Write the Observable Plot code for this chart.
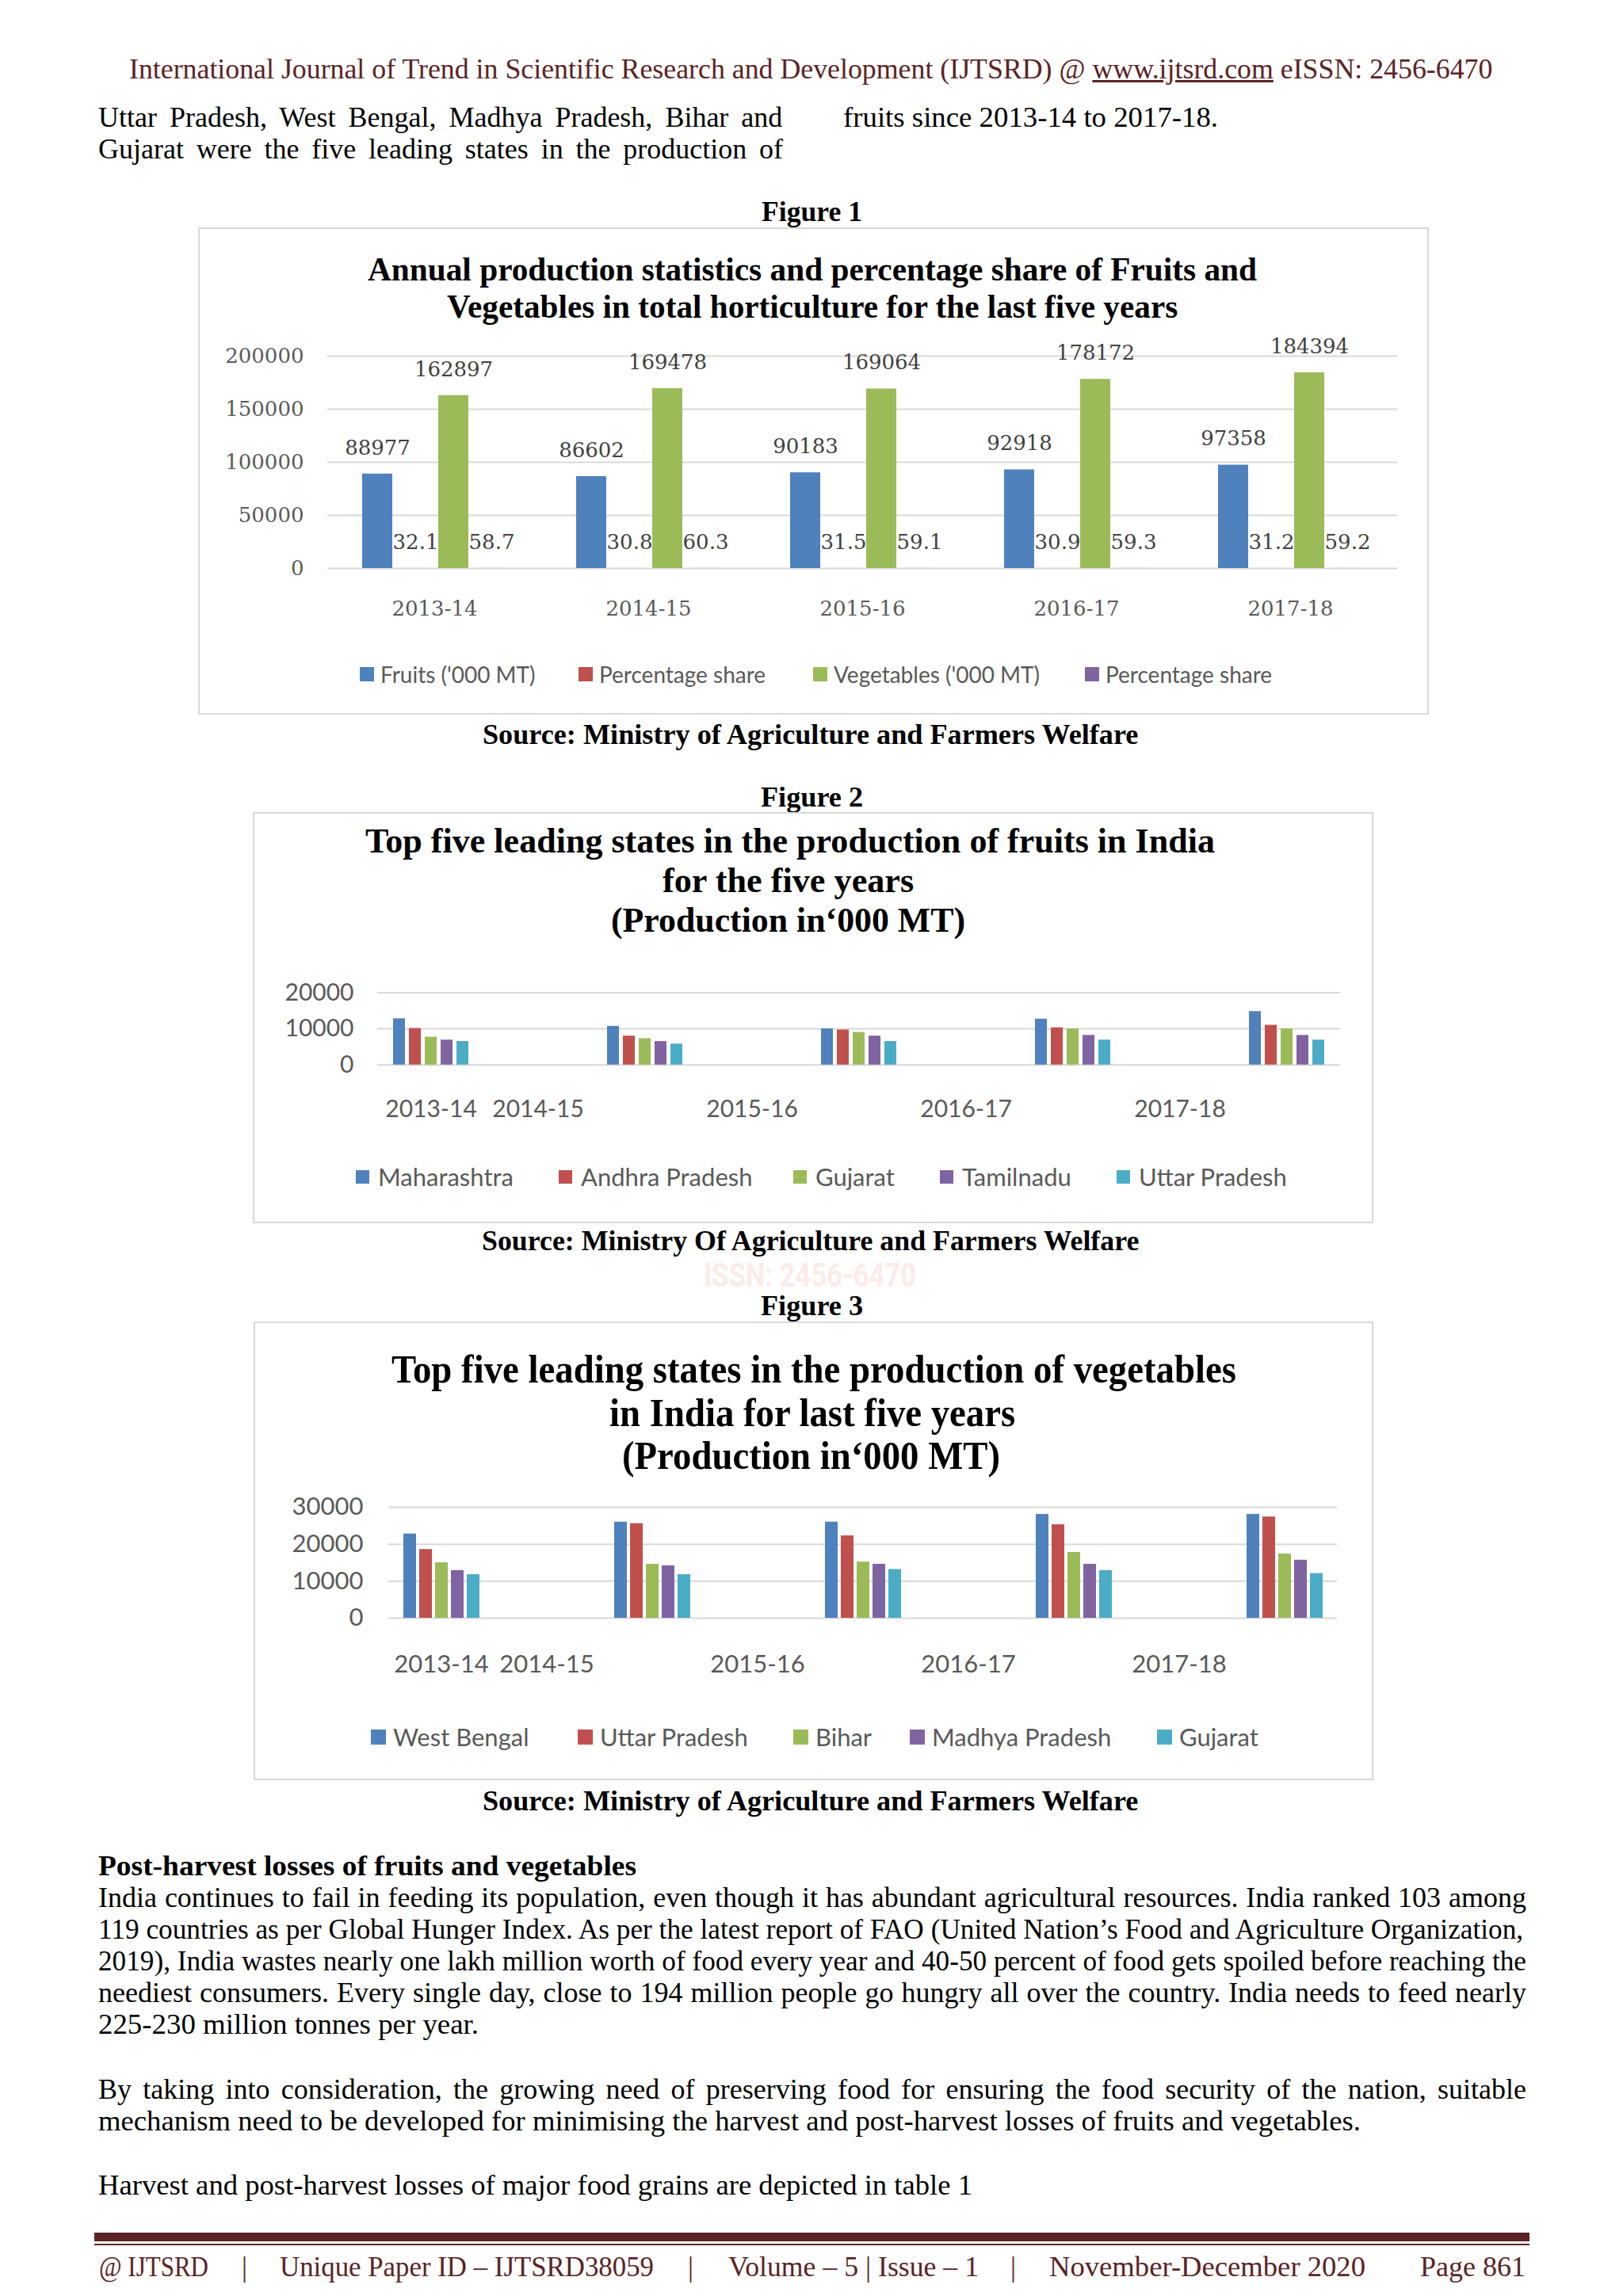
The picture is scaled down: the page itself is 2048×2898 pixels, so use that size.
<!DOCTYPE html>
<html><head><meta charset="utf-8">
<script src="https://cdn.jsdelivr.net/npm/d3@7"></script>
<script src="https://cdn.jsdelivr.net/npm/@observablehq/plot@0.6"></script>
<style>
html,body{margin:0;padding:0;background:#fff;}
#page{position:relative;width:2048px;height:2898px;overflow:hidden;background:#fff;}
.box{position:absolute;border:2px solid #d9d9d9;box-sizing:border-box;}
</style></head><body><div id="page"></div>
<script>
// ---------------- DATA ----------------
// Figure 1
const years = ["2013-14", "2014-15", "2015-16", "2016-17", "2017-18"];
const fruitsProd = [88977, 86602, 90183, 92918, 97358];
const fruitsShare = [32.1, 30.8, 31.5, 30.9, 31.2];
const vegProd = [162897, 169478, 169064, 178172, 184394];
const vegShare = [58.7, 60.3, 59.1, 59.3, 59.2];
const fig1Keys = ["fruits", "fruitsShare", "veg", "vegShare"];
const fig1Labels = ["Fruits ('000 MT)", "Percentage share", "Vegetables ('000 MT)", "Percentage share"];
const fig1Ticks = [0, 50000, 100000, 150000, 200000];

// Figure 2 (category rows as in the source sheet; empty rows carry no values)
const fig2AxisRows = ["2013-14", "2014-15", "", "2015-16", "", "2016-17", "", "2017-18", ""];
const fig2States = ["Maharashtra", "Andhra Pradesh", "Gujarat", "Tamilnadu", "Uttar Pradesh"];
const maharashtra = [12800, null, 10700, null, 10000, null, 12700, null, 14800];
const andhraPradesh = [10100, null, 8000, null, 9700, null, 10300, null, 11000];
const gujaratFruits = [7700, null, 7300, null, 9000, null, 10000, null, 10000];
const tamilnadu = [6900, null, 6500, null, 8000, null, 8200, null, 8200];
const uttarPradeshFruits = [6500, null, 5800, null, 6500, null, 6900, null, 6900];
const fig2Ticks = [0, 10000, 20000];

// Figure 3
const fig3AxisRows = ["2013-14", "2014-15", "", "2015-16", "", "2016-17", "", "2017-18", ""];
const fig3States = ["West Bengal", "Uttar Pradesh", "Bihar", "Madhya Pradesh", "Gujarat"];
const westBengal = [22800, null, 26000, null, 26000, null, 28100, null, 28100];
const uttarPradeshVeg = [18600, null, 25600, null, 22300, null, 25300, null, 27400];
const bihar = [15000, null, 14600, null, 15200, null, 17800, null, 17400];
const madhyaPradesh = [12900, null, 14200, null, 14600, null, 14600, null, 15700];
const gujaratVeg = [11800, null, 11800, null, 13200, null, 12900, null, 12100];
const fig3Ticks = [0, 10000, 20000, 30000];

// ---------------- STYLE ----------------
const palette = ["#4f81bd", "#c0504d", "#9bbb59", "#8064a2", "#4bacc6"];
const fig1Colors = ["#4f81bd", "#c0504d", "#9bbb59", "#8064a2"];
const maroon = "#5b2326";
const SERIF = "'Liberation Serif', 'Times New Roman', serif";

const page = document.getElementById("page");
const ctx = document.createElement("canvas").getContext("2d");
function natural(text, font) { ctx.font = font; return ctx.measureText(text).width; }

function put(text, o) {
  const size = o.size || 34;
  const family = o.family || SERIF;
  const weight = o.weight || "normal";
  const font = `${weight} ${size}px ${family}`;
  const el = document.createElement("div");
  if (o.html) el.innerHTML = o.html; else el.textContent = text;
  el.style.cssText = `position:absolute;white-space:pre;line-height:1;font:${font};color:${o.color || "#000"};top:${o.cy - size / 2}px;`;
  let nat = natural(text, font);
  let sx = 1;
  if (o.w) {
    const spaces = (text.match(/ /g) || []).length;
    if (o.justify && nat < o.w && spaces > 0) {
      el.style.wordSpacing = ((o.w - nat) / spaces) + "px";
    } else {
      sx = o.w / nat;
    }
  }
  const width = o.w || nat;
  const left = o.cx != null ? o.cx - width / 2 : o.x;
  el.style.left = left + "px";
  if (sx !== 1) { el.style.transform = `scaleX(${sx})`; el.style.transformOrigin = "0 0"; }
  page.appendChild(el);
  return el;
}

function box(l, t, r, b) {
  const d = document.createElement("div");
  d.className = "box";
  d.style.left = l + "px"; d.style.top = t + "px";
  d.style.width = (r - l) + "px"; d.style.height = (b - t) + "px";
  page.appendChild(d);
}

function mount(svg, left, top) {
  const d = document.createElement("div");
  d.style.cssText = `position:absolute;left:${left}px;top:${top}px;`;
  d.appendChild(svg);
  page.appendChild(d);
}

function legend(labels, colors, lefts, cy, size, sq, gap, family) {
  labels.forEach((label, i) => {
    const it = document.createElement("div");
    it.style.cssText = `position:absolute;left:${lefts[i]}px;top:${cy - size / 2}px;height:${size}px;display:flex;align-items:center;font:${size}px ${family};color:#595959;white-space:pre;line-height:1;`;
    const s = document.createElement("span");
    s.style.cssText = `display:inline-block;flex:none;width:${sq}px;height:${sq}px;background:${colors[i]};margin-right:${gap}px;`;
    it.append(s, document.createTextNode(label));
    page.appendChild(it);
  });
}

// ---------------- PAGE TEXT ----------------
put("International Journal of Trend in Scientific Research and Development (IJTSRD) @ www.ijtsrd.com eISSN: 2456-6470",
  { html: 'International Journal of Trend in Scientific Research and Development (IJTSRD) @ <span style="text-decoration:underline">www.ijtsrd.com</span> eISSN: 2456-6470',
    x: 163, w: 1721, cy: 85, size: 35, color: maroon });
put("Uttar Pradesh, West Bengal, Madhya Pradesh, Bihar and", { x: 124, w: 864, cy: 145, size: 36, justify: true });
put("Gujarat were the five leading states in the production of", { x: 124, w: 864, cy: 185, size: 36, justify: true });
put("fruits since 2013-14 to 2017-18.", { x: 1064, w: 473, cy: 145, size: 36 });

// watermark
put("ISSN: 2456-6470", { cx: 1022, cy: 1606, w: 268, size: 42, family: "Roboto, sans-serif", weight: "bold", color: "#fbecea" });

put("Figure 1", { cx: 1024, cy: 265, w: 127, weight: "bold", size: 35 });
put("Source: Ministry of Agriculture and Farmers Welfare", { cx: 1024, cy: 925, w: 830, weight: "bold", size: 35 });
put("Figure 2", { cx: 1024, cy: 1004, w: 129, weight: "bold", size: 35 });
put("Source: Ministry Of Agriculture and Farmers Welfare", { cx: 1024, cy: 1564, w: 832, weight: "bold", size: 35 });
put("Figure 3", { cx: 1024, cy: 1646, w: 129, weight: "bold", size: 35 });
put("Source: Ministry of Agriculture and Farmers Welfare", { cx: 1024, cy: 2271, w: 830, weight: "bold", size: 35 });

put("Post-harvest losses of fruits and vegetables", { x: 124, w: 679, cy: 2352, weight: "bold", size: 36 });
const para1 = [
  "India continues to fail in feeding its population, even though it has abundant agricultural resources. India ranked 103 among",
  "119 countries as per Global Hunger Index. As per the latest report of FAO (United Nation’s Food and Agriculture Organization,",
  "2019), India wastes nearly one lakh million worth of food every year and 40-50 percent of food gets spoiled before reaching the",
  "neediest consumers. Every single day, close to 194 million people go hungry all over the country. India needs to feed nearly"
];
para1.forEach((t, i) => put(t, { x: 124, w: 1802, cy: 2392 + i * 40, size: 36, justify: true }));
put("225-230 million tonnes per year.", { x: 124, w: 480, cy: 2552, size: 36 });
put("By taking into consideration, the growing need of preserving food for ensuring the food security of the nation, suitable", { x: 124, w: 1802, cy: 2634, size: 36, justify: true });
put("mechanism need to be developed for minimising the harvest and post-harvest losses of fruits and vegetables.", { x: 124, w: 1593, cy: 2674, size: 36 });
put("Harvest and post-harvest losses of major food grains are depicted in table 1", { x: 124, w: 1103, cy: 2755, size: 36 });

// footer rule
const r1 = document.createElement("div");
r1.style.cssText = `position:absolute;left:119px;top:2818px;width:1811px;height:11px;background:${maroon};`;
const r2 = document.createElement("div");
r2.style.cssText = `position:absolute;left:119px;top:2832px;width:1811px;height:2px;background:${maroon};`;
page.append(r1, r2);
put("@ IJTSRD", { x: 125, w: 138, cy: 2859, size: 35, color: maroon });
put("|", { x: 305, cy: 2859, size: 35, color: maroon });
put("Unique Paper ID – IJTSRD38059", { x: 353, w: 472, cy: 2859, size: 35, color: maroon });
put("|", { x: 868, cy: 2859, size: 35, color: maroon });
put("Volume – 5 | Issue – 1", { x: 919, w: 316, cy: 2859, size: 35, color: maroon });
put("|", { x: 1275, cy: 2859, size: 35, color: maroon });
put("November-December 2020", { x: 1324, w: 399, cy: 2859, size: 35, color: maroon });
put("Page 861", { x: 1792, w: 133, cy: 2859, size: 35, color: maroon });

// ---------------- FIGURE 1 ----------------
box(250, 287, 1803, 902);
put("Annual production statistics and percentage share of Fruits and", { cx: 1025, cy: 337, w: 1122, size: 42, weight: "bold" });
put("Vegetables in total horticulture for the last five years", { cx: 1025, cy: 384, w: 923, size: 42, weight: "bold" });

const fig1Series = [fruitsProd, fruitsShare, vegProd, vegShare];
const fig1Rows = years.flatMap((yr, i) => fig1Keys.map((k, j) => ({ year: yr, key: k, value: fig1Series[j][i] })));
const fig1 = Plot.plot({
  width: 1550, height: 420,
  marginLeft: 163, marginRight: 37, marginTop: 49, marginBottom: 103,
  style: { fontFamily: "'DejaVu Serif', serif", fontSize: "26px", color: "#595959", background: "transparent", overflow: "visible" },
  fx: { domain: years, padding: 0, axis: "bottom", tickSize: 0, tickPadding: 41, label: null },
  x: { domain: fig1Keys, axis: null, paddingInner: 0.204, paddingOuter: 0.86 },
  y: { domain: [0, 200000], ticks: fig1Ticks, tickSize: 0, tickPadding: 30, tickFormat: d => String(d), label: null },
  color: { domain: fig1Keys, range: fig1Colors },
  marks: [
    Plot.gridY({ ticks: fig1Ticks, stroke: "#d9d9d9", strokeOpacity: 1, strokeWidth: 2 }),
    Plot.barY(fig1Rows, { fx: "year", x: "key", y: "value", fill: "key" }),
    Plot.text(fig1Rows, { fx: "year", x: "key", y: "value", text: d => String(d.value), dy: -33, fill: "#404040" })
  ]
});
mount(fig1, 250, 400);
legend(fig1Labels, fig1Colors, [454, 730, 1026, 1369], 851, 28, 18, 8, "Lato, sans-serif");

// ---------------- FIGURE 2 ----------------
box(319, 1025, 1733, 1544);
put("Top five leading states in the production of fruits in India", { cx: 997, cy: 1058, w: 1072, size: 44, weight: "bold" });
put("for the five years", { cx: 995, cy: 1108, w: 318, size: 44, weight: "bold" });
put("(Production in‘000 MT)", { cx: 994, cy: 1158, w: 447, size: 44, weight: "bold" });

const fig2Values = [maharashtra, andhraPradesh, gujaratFruits, tamilnadu, uttarPradeshFruits];
const fig2Rows = fig2AxisRows.flatMap((row, i) => fig2States.map((s, j) => ({ slot: i, state: s, value: fig2Values[j][i] })));
const fig2 = Plot.plot({
  width: 1413, height: 240,
  marginLeft: 156, marginRight: 41, marginTop: 52.5, marginBottom: 96.3,
  style: { fontFamily: "Lato, sans-serif", fontSize: "30px", color: "#595959", background: "transparent", overflow: "visible" },
  fx: { domain: d3.range(fig2AxisRows.length), padding: 0, axis: "bottom", tickSize: 0, tickPadding: 44, tickFormat: i => fig2AxisRows[i], label: null },
  x: { domain: fig2States, axis: null, paddingInner: 0.227, paddingOuter: 0.877 },
  y: { domain: [0, 20000], ticks: fig2Ticks, tickSize: 0, tickPadding: 30, tickFormat: d => String(d), label: null },
  color: { domain: fig2States, range: palette },
  marks: [
    Plot.gridY({ ticks: fig2Ticks, stroke: "#d9d9d9", strokeOpacity: 1, strokeWidth: 2 }),
    Plot.barY(fig2Rows, { fx: "slot", x: "state", y: "value", fill: "state" })
  ]
});
mount(fig2, 319, 1200);
legend(fig2States, palette, [449, 705, 1001, 1186, 1409], 1485, 31, 17, 11, "Lato, sans-serif");

// ---------------- FIGURE 3 ----------------
box(320, 1668, 1733, 2247);
put("Top five leading states in the production of vegetables", { cx: 1027, cy: 1724, w: 1066, size: 50, weight: "bold" });
put("in India for last five years", { cx: 1025, cy: 1779, w: 513, size: 50, weight: "bold" });
put("(Production in‘000 MT)", { cx: 1023, cy: 1833, w: 477, size: 50, weight: "bold" });

const fig3Values = [westBengal, uttarPradeshVeg, bihar, madhyaPradesh, gujaratVeg];
const fig3Rows = fig3AxisRows.flatMap((row, i) => fig3States.map((s, j) => ({ slot: i, state: s, value: fig3Values[j][i] })));
const fig3 = Plot.plot({
  width: 1412, height: 300,
  marginLeft: 167, marginRight: 43, marginTop: 52, marginBottom: 108,
  style: { fontFamily: "Lato, sans-serif", fontSize: "31px", color: "#595959", background: "transparent", overflow: "visible" },
  fx: { domain: d3.range(fig3AxisRows.length), padding: 0, axis: "bottom", tickSize: 0, tickPadding: 46, tickFormat: i => fig3AxisRows[i], label: null },
  x: { domain: fig3States, axis: null, paddingInner: 0.2, paddingOuter: 0.9 },
  y: { domain: [0, 30000], ticks: fig3Ticks, tickSize: 0, tickPadding: 32, tickFormat: d => String(d), label: null },
  color: { domain: fig3States, range: palette },
  marks: [
    Plot.gridY({ ticks: fig3Ticks, stroke: "#d9d9d9", strokeOpacity: 1, strokeWidth: 2 }),
    Plot.barY(fig3Rows, { fx: "slot", x: "state", y: "value", fill: "state" })
  ]
});
mount(fig3, 320, 1850);
legend(fig3States, palette, [468, 729, 1001, 1148, 1460], 2192, 31, 19, 9, "Lato, sans-serif");
</script></body></html>
